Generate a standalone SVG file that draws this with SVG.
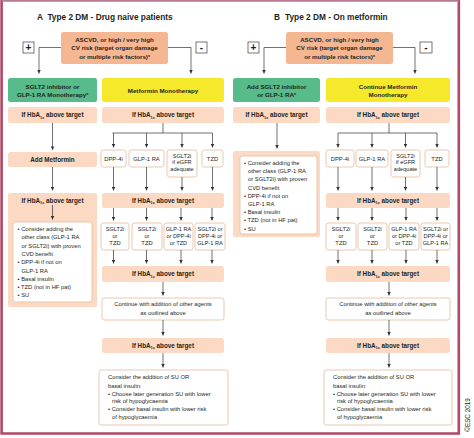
<svg xmlns="http://www.w3.org/2000/svg" width="474" height="438" viewBox="0 0 474 438">
<defs>
<marker id="arr" viewBox="0 0 6 6" refX="6" refY="3" markerWidth="3.6" markerHeight="3.6" markerUnits="userSpaceOnUse" orient="auto">
<path d="M0,0 L6,3 L0,6 z" fill="#333"/>
</marker>
</defs>
<style>
text{font-family:"Liberation Sans",Arial,sans-serif;fill:#231f20}
.title{font-size:8.3px;font-weight:bold}
.b{font-weight:bold;font-size:6.2px}
.lbl{font-weight:bold;font-size:6.3px}
.t{font-size:5.8px}
.s{font-size:5.6px}
.c{text-anchor:middle}
.ascvd{fill:#f5b692}
.peach{fill:#fbd9c2}
.green{fill:#57bb8a}
.yellow{fill:#f6e92c}
.wbox{fill:#fff;stroke:#e6c2a6;stroke-width:0.9}
.sign{fill:#fff;stroke:#555;stroke-width:0.8}
.conn path{fill:none;stroke:#333;stroke-width:0.7;marker-end:url(#arr)}
.conn path.n{marker-end:none}
</style>
<rect x="0" y="0" width="474" height="438" fill="#fff"/>
<path d="M1.6,0 V433.5 H458.8 V0" fill="none" stroke="#b24767" stroke-width="2.6"/>
<path d="M1.6,0.6 H458.8" stroke="#b57a91" stroke-width="2.4"/>

<!-- Panel A -->
<text class="title" x="37" y="20">A<tspan dx="5">Type 2 DM - Drug naive patients</tspan></text>
<g id="ascvd_a"><rect class="ascvd" x="61" y="32" width="107" height="32" rx="2.5"/>
<text class="b c" x="114.5" y="41.5">ASCVD, or high / very high</text>
<text class="b c" x="114.5" y="50">CV risk (target organ damage</text>
<text class="b c" x="114.5" y="58.5">or multiple risk factors)<tspan font-size="3.5" dy="-2">a</tspan></text></g>
<g id="plus_a"><rect class="sign" x="23" y="42" width="11" height="11"/><text class="c" x="28.5" y="50.8" font-size="10" font-weight="bold">+</text></g>
<g id="minus_a"><rect class="sign" x="196" y="42" width="11" height="11"/><text class="c" x="201.5" y="50.5" font-size="10" font-weight="bold">-</text></g>
<g id="green_a"><rect class="green" x="8" y="78" width="89" height="24" rx="2.5"/>
<text class="b c" x="52.5" y="88.5">SGLT2 inhibitor or</text>
<text class="b c" x="52.5" y="96.5">GLP-1 RA Monotherapy<tspan font-size="3.5" dy="-2">a</tspan></text></g>
<g id="yellow_a"><rect class="yellow" x="102" y="78" width="122" height="24" rx="2.5"/>
<text class="b c" x="163" y="92.5">Metformin Monotherapy</text></g>
<g id="if_a1"><rect class="peach" x="8" y="107" width="89" height="16" rx="2.5"/>
<text class="lbl c" x="52.5" y="117.3">If HbA<tspan font-size="3.8" dy="1.2">1c</tspan><tspan dy="-1.2"> above target</tspan></text></g>
<g id="if_a2"><rect class="peach" x="102" y="107" width="122" height="16" rx="2.5"/>
<text class="lbl c" x="163" y="117.3">If HbA<tspan font-size="3.8" dy="1.2">1c</tspan><tspan dy="-1.2"> above target</tspan></text></g>
<g id="addmet_a"><rect class="peach" x="8" y="152" width="89" height="15" rx="2.5"/>
<text class="lbl c" x="52.5" y="161.8">Add Metformin</text></g>
<g id="if_a3"><rect class="peach" x="8" y="193" width="89" height="114" rx="2.5"/>
<text class="lbl c" x="52.5" y="202.8">If HbA<tspan font-size="3.8" dy="1.2">1c</tspan><tspan dy="-1.2"> above target</tspan></text>
<rect class="wbox" x="13" y="222" width="79" height="80" rx="2.5"/>
<text class="t" x="17.5" y="231">• Consider adding the</text>
<text class="t" x="21.5" y="239.3">other class (GLP-1 RA</text>
<text class="t" x="21.5" y="247.6">or SGLT2i) with proven</text>
<text class="t" x="21.5" y="255.9">CVD benefit</text>
<text class="t" x="17.5" y="264.2">• DPP-4i if not on</text>
<text class="t" x="21.5" y="272.5">GLP-1 RA</text>
<text class="t" x="17.5" y="280.8">• Basal insulin</text>
<text class="t" x="17.5" y="289.1">• TZD (not in HF pat)</text>
<text class="t" x="17.5" y="297.4">• SU</text></g>
<g id="dpp4_a"><rect class="wbox" x="101" y="150" width="25" height="17" rx="2.5"/><text class="t c" x="113.5" y="160.5">DPP-4i</text></g>
<g id="glp1_a"><rect class="wbox" x="129" y="150" width="35" height="17" rx="2.5"/><text class="t c" x="146.5" y="160.5">GLP-1 RA</text></g>
<g id="sglt2_a"><rect class="wbox" x="167" y="150" width="30" height="27" rx="2.5"/>
<text class="s c" x="182" y="157.5">SGLT2i</text><text class="s c" x="182" y="164">if eGFR</text><text class="s c" x="182" y="170.5">adequate</text></g>
<g id="tzd_a"><rect class="wbox" x="202" y="150" width="21" height="17" rx="2.5"/><text class="t c" x="212.5" y="160.5">TZD</text></g>
<g id="if_a4"><rect class="peach" x="102" y="193" width="122" height="15" rx="2.5"/>
<text class="lbl c" x="163" y="202.8">If HbA<tspan font-size="3.8" dy="1.2">1c</tspan><tspan dy="-1.2"> above target</tspan></text></g>
<g id="r2a1"><rect class="wbox" x="101" y="223" width="28" height="27" rx="2.5"/>
<text class="s c" x="115" y="231">SGLT2i</text><text class="s c" x="115" y="238">or</text><text class="t c" x="115" y="245">TZD</text></g>
<g id="r2a2"><rect class="wbox" x="132" y="223" width="30" height="27" rx="2.5"/>
<text class="s c" x="147" y="231">SGLT2i</text><text class="s c" x="147" y="238">or</text><text class="t c" x="147" y="245">TZD</text></g>
<g id="r2a3"><rect class="wbox" x="164" y="223" width="29" height="27" rx="2.5"/>
<text class="s c" x="178.5" y="231">GLP-1 RA</text><text class="s c" x="178.5" y="238">or DPP-4i</text><text class="s c" x="178.5" y="245">or TZD</text></g>
<g id="r2a4"><rect class="wbox" x="195" y="223" width="30" height="27" rx="2.5"/>
<text class="s c" x="210" y="231">SGLT2i or</text><text class="s c" x="210" y="238">DPP-4i or</text><text class="s c" x="210" y="245">GLP-1 RA</text></g>
<g id="if_a5"><rect class="peach" x="102" y="266" width="122" height="16" rx="2.5"/>
<text class="lbl c" x="163" y="276.3">If HbA<tspan font-size="3.8" dy="1.2">1c</tspan><tspan dy="-1.2"> above target</tspan></text></g>
<g id="cont_a"><rect class="wbox" x="102" y="298" width="122" height="22" rx="2.5"/>
<text class="t c" x="163" y="305.5">Continue with addition of other agents</text>
<text class="t c" x="163" y="314.5">as outlined above</text></g>
<g id="if_a6"><rect class="peach" x="102" y="338" width="122" height="15" rx="2.5"/>
<text class="lbl c" x="163" y="347.8">If HbA<tspan font-size="3.8" dy="1.2">1c</tspan><tspan dy="-1.2"> above target</tspan></text></g>
<g id="final_a"><rect class="wbox" x="99" y="370" width="129" height="55" rx="2.5"/>
<text class="t" x="108" y="379">Consider the addition of SU OR</text>
<text class="t" x="108" y="388">basal insulin:</text>
<text class="t" x="108" y="395.5">• Choose later generation SU with lower</text>
<text class="t" x="112" y="403.3">risk of hypoglycaemia</text>
<text class="t" x="108" y="411.2">• Consider basal insulin with lower risk</text>
<text class="t" x="112" y="419">of hypoglycaemia</text></g>

<!-- Panel B -->
<text class="title" x="274" y="20">B<tspan dx="5">Type 2 DM - On metformin</tspan></text>
<g id="ascvd_b"><rect class="ascvd" x="286" y="32" width="107" height="32" rx="2.5"/>
<text class="b c" x="339.5" y="41.5">ASCVD, or high / very high</text>
<text class="b c" x="339.5" y="50">CV risk (target organ damage</text>
<text class="b c" x="339.5" y="58.5">or multiple risk factors)<tspan font-size="3.5" dy="-2">a</tspan></text></g>
<g id="plus_b"><rect class="sign" x="248" y="42" width="11" height="11"/><text class="c" x="253.5" y="50.8" font-size="10" font-weight="bold">+</text></g>
<g id="minus_b"><rect class="sign" x="420" y="42" width="12" height="11"/><text class="c" x="426" y="50.5" font-size="10" font-weight="bold">-</text></g>
<g id="green_b"><rect class="green" x="233" y="78" width="87" height="24" rx="2.5"/>
<text class="b c" x="276.5" y="88.5">Add SGLT2 inhibitor</text>
<text class="b c" x="276.5" y="96.5">or GLP-1 RA<tspan font-size="3.5" dy="-2">a</tspan></text></g>
<g id="yellow_b"><rect class="yellow" x="326" y="78" width="124" height="24" rx="2.5"/>
<text class="b c" x="388" y="88.5">Continue Metformin</text>
<text class="b c" x="388" y="96.5">Monotherapy</text></g>
<g id="if_b1"><rect class="peach" x="233" y="107" width="87" height="16" rx="2.5"/>
<text class="lbl c" x="276.5" y="117.3">If HbA<tspan font-size="3.8" dy="1.2">1c</tspan><tspan dy="-1.2"> above target</tspan></text></g>
<g id="if_b2"><rect class="peach" x="326" y="107" width="124" height="16" rx="2.5"/>
<text class="lbl c" x="388" y="117.3">If HbA<tspan font-size="3.8" dy="1.2">1c</tspan><tspan dy="-1.2"> above target</tspan></text></g>
<g id="panel_b"><rect class="peach" x="233" y="151" width="87" height="86" rx="2.5"/>
<rect class="wbox" x="240" y="156" width="77" height="78" rx="2.5"/>
<text class="t" x="244" y="165">• Consider adding the</text>
<text class="t" x="248" y="173.2">other class (GLP-1 RA</text>
<text class="t" x="248" y="181.4">or SGLT2i) with proven</text>
<text class="t" x="248" y="189.6">CVD benefit</text>
<text class="t" x="244" y="197.8">• DPP-4i if not on</text>
<text class="t" x="248" y="206">GLP-1 RA</text>
<text class="t" x="244" y="214.2">• Basal insulin</text>
<text class="t" x="244" y="222.4">• TZD (not in HF pat)</text>
<text class="t" x="244" y="230.6">• SU</text></g>
<g id="dpp4_b"><rect class="wbox" x="326" y="150" width="28" height="17" rx="2.5"/><text class="t c" x="340" y="160.5">DPP-4i</text></g>
<g id="glp1_b"><rect class="wbox" x="356" y="150" width="32" height="17" rx="2.5"/><text class="t c" x="372" y="160.5">GLP-1 RA</text></g>
<g id="sglt2_b"><rect class="wbox" x="391" y="150" width="29" height="27" rx="2.5"/>
<text class="s c" x="405.5" y="157.5">SGLT2i</text><text class="s c" x="405.5" y="164">if eGFR</text><text class="s c" x="405.5" y="170.5">adequate</text></g>
<g id="tzd_b"><rect class="wbox" x="425" y="150" width="24" height="17" rx="2.5"/><text class="t c" x="437" y="160.5">TZD</text></g>
<g id="if_b3"><rect class="peach" x="326" y="193" width="124" height="15" rx="2.5"/>
<text class="lbl c" x="388" y="202.8">If HbA<tspan font-size="3.8" dy="1.2">1c</tspan><tspan dy="-1.2"> above target</tspan></text></g>
<g id="r2b1"><rect class="wbox" x="326" y="223" width="30" height="27" rx="2.5"/>
<text class="s c" x="341" y="231">SGLT2i</text><text class="s c" x="341" y="238">or</text><text class="t c" x="341" y="245">TZD</text></g>
<g id="r2b2"><rect class="wbox" x="358" y="223" width="29" height="27" rx="2.5"/>
<text class="s c" x="372.5" y="231">SGLT2i</text><text class="s c" x="372.5" y="238">or</text><text class="t c" x="372.5" y="245">TZD</text></g>
<g id="r2b3"><rect class="wbox" x="389" y="223" width="30" height="27" rx="2.5"/>
<text class="s c" x="404" y="231">GLP-1 RA</text><text class="s c" x="404" y="238">or DPP-4i</text><text class="s c" x="404" y="245">or TZD</text></g>
<g id="r2b4"><rect class="wbox" x="421" y="223" width="29" height="27" rx="2.5"/>
<text class="s c" x="435.5" y="231">SGLT2i or</text><text class="s c" x="435.5" y="238">DPP-4i or</text><text class="s c" x="435.5" y="245">GLP-1 RA</text></g>
<g id="if_b4"><rect class="peach" x="326" y="266" width="124" height="16" rx="2.5"/>
<text class="lbl c" x="388" y="276.3">If HbA<tspan font-size="3.8" dy="1.2">1c</tspan><tspan dy="-1.2"> above target</tspan></text></g>
<g id="cont_b"><rect class="wbox" x="326" y="298" width="124" height="22" rx="2.5"/>
<text class="t c" x="388" y="305.5">Continue with addition of other agents</text>
<text class="t c" x="388" y="314.5">as outlined above</text></g>
<g id="if_b5"><rect class="peach" x="326" y="338" width="124" height="15" rx="2.5"/>
<text class="lbl c" x="388" y="347.8">If HbA<tspan font-size="3.8" dy="1.2">1c</tspan><tspan dy="-1.2"> above target</tspan></text></g>
<g id="final_b"><rect class="wbox" x="324" y="370" width="128" height="55" rx="2.5"/>
<text class="t" x="333" y="379">Consider the addition of SU OR</text>
<text class="t" x="333" y="388">basal insulin:</text>
<text class="t" x="333" y="395.5">• Choose later generation SU with lower</text>
<text class="t" x="337" y="403.3">risk of hypoglycaemia</text>
<text class="t" x="333" y="411.2">• Consider basal insulin with lower risk</text>
<text class="t" x="337" y="419">of hypoglycaemia</text></g>

<text x="470" y="415" class="c" font-size="6.3" transform="rotate(-90 470 415)" fill="#333">©ESC 2019</text>

<g id="connectors" class="conn">
<path d="M61,47.5 H39 V73.5"/>
<path d="M168,47.5 H191 V73.5"/>
<path d="M52.5,123 V150"/>
<path d="M52.5,167 V190.5"/>
<path d="M52.5,205 V219.5"/>
<path class="n" d="M163,123 V133"/>
<path class="n" d="M112.5,133 H212.5"/>
<path d="M113.5,133 V147.5"/>
<path d="M146.5,133 V147.5"/>
<path d="M182,133 V147.5"/>
<path d="M212.5,133 V147.5"/>
<path d="M113.5,167 V190.5"/>
<path d="M146.5,167 V190.5"/>
<path d="M182,177 V190.5"/>
<path d="M212.5,167 V190.5"/>
<path d="M113.5,208 V220.5"/>
<path d="M146.5,208 V220.5"/>
<path d="M181,208 V220.5"/>
<path d="M212,208 V220.5"/>
<path d="M113.5,250 V263.5"/>
<path d="M146.5,250 V263.5"/>
<path d="M181,250 V263.5"/>
<path d="M212,250 V263.5"/>
<path d="M163,282 V295.5"/>
<path d="M163,320 V335.5"/>
<path d="M163,353 V367.5"/>
<path d="M286,47.5 H264 V73.5"/>
<path d="M393,47.5 H415 V73.5"/>
<path d="M277,123 V148.5"/>
<path class="n" d="M389,123 V133"/>
<path class="n" d="M338,133 H437"/>
<path d="M338,133 V147.5"/>
<path d="M372,133 V147.5"/>
<path d="M405.5,133 V147.5"/>
<path d="M437,133 V147.5"/>
<path d="M338,167 V190.5"/>
<path d="M372,167 V190.5"/>
<path d="M405.5,177 V190.5"/>
<path d="M437,167 V190.5"/>
<path d="M338,208 V220.5"/>
<path d="M372,208 V220.5"/>
<path d="M406,208 V220.5"/>
<path d="M437,208 V220.5"/>
<path d="M338,250 V263.5"/>
<path d="M372,250 V263.5"/>
<path d="M406,250 V263.5"/>
<path d="M437,250 V263.5"/>
<path d="M389,282 V295.5"/>
<path d="M389,320 V335.5"/>
<path d="M389,353 V367.5"/>
</g>
</svg>
